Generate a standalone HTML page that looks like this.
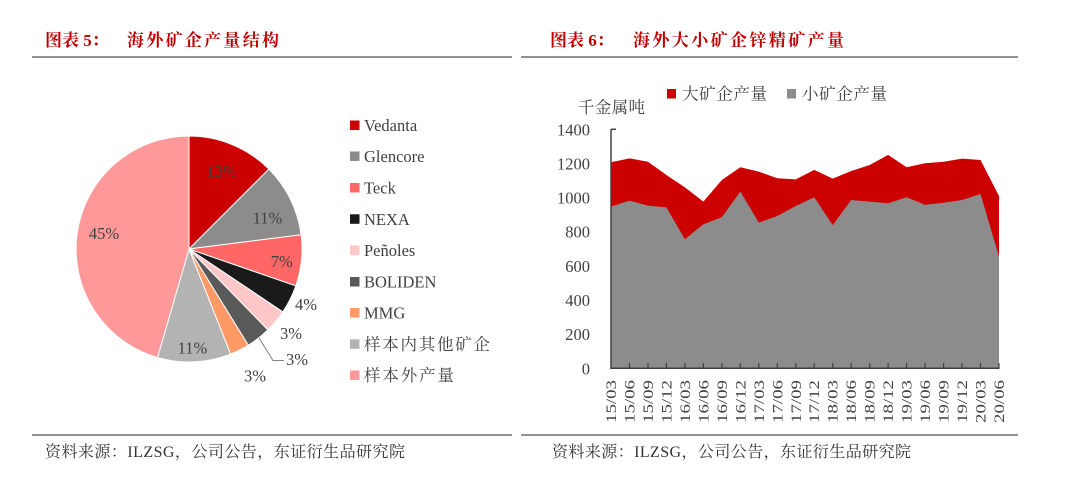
<!DOCTYPE html>
<html><head><meta charset="utf-8"><style>
html,body{margin:0;padding:0;background:#fff;}
body{width:1080px;height:487px;overflow:hidden;}
svg{display:block;}
.t{font-family:"Liberation Serif","Noto Serif CJK SC",serif;font-weight:bold;fill:#C00000;font-size:17px;}
.f{font-family:"Liberation Serif","Noto Serif CJK SC",serif;fill:#333;font-size:16px;}
.l{font-family:"Liberation Serif","Noto Serif CJK SC",serif;fill:#404040;font-size:16.5px;}
.n{font-family:"Liberation Serif",serif;fill:#404040;font-size:16.5px;}
.x{font-family:"Liberation Serif",serif;fill:#404040;font-size:15px;}
</style></head><body>
<svg width="1080" height="487" viewBox="0 0 1080 487" xmlns="http://www.w3.org/2000/svg">
<!-- Titles -->
<text class="t" x="45" y="46">图表 5：</text>
<text class="t" x="127" y="46" textLength="152" lengthAdjust="spacing">海外矿企产量结构</text>
<text class="t" x="550" y="46">图表 6：</text>
<text class="t" x="633" y="46" textLength="211" lengthAdjust="spacing">海外大小矿企锌精矿产量</text>
<line x1="32" y1="57" x2="512" y2="57" stroke="#6e6e6e" stroke-width="1.6"/>
<line x1="521" y1="57" x2="1018" y2="57" stroke="#6e6e6e" stroke-width="1.6"/>
<!-- Footer -->
<line x1="32" y1="435" x2="512" y2="435" stroke="#6e6e6e" stroke-width="1.6"/>
<line x1="521" y1="435" x2="1018" y2="435" stroke="#6e6e6e" stroke-width="1.6"/>
<text class="f" x="45" y="457" textLength="360" lengthAdjust="spacing">资料来源：ILZSG，公司公告，东证衍生品研究院</text>
<text class="f" x="552" y="457" textLength="359" lengthAdjust="spacing">资料来源：ILZSG，公司公告，东证衍生品研究院</text>

<!-- Pie -->
<g stroke="#fff" stroke-width="1">
<path d="M189,249 L189,136 A113,113 0 0 1 268.9,169.1 Z" fill="#CC0000"/>
<path d="M189,249 L268.9,169.1 A113,113 0 0 1 301.1,234.8 Z" fill="#8C8C8C"/>
<path d="M189,249 L301.1,234.8 A113,113 0 0 1 295.8,285.9 Z" fill="#FF6666"/>
<path d="M189,249 L295.8,285.9 A113,113 0 0 1 282.8,311.9 Z" fill="#1A1A1A"/>
<path d="M189,249 L282.8,311.9 A113,113 0 0 1 267.9,329.9 Z" fill="#FFC7C7"/>
<path d="M189,249 L267.9,329.9 A113,113 0 0 1 248.3,345.2 Z" fill="#595959"/>
<path d="M189,249 L248.3,345.2 A113,113 0 0 1 230.6,354.1 Z" fill="#FF9966"/>
<path d="M189,249 L230.6,354.1 A113,113 0 0 1 157.5,357.5 Z" fill="#B3B3B3"/>
<path d="M189,249 L157.5,357.5 A113,113 0 0 1 189,136 Z" fill="#FF9999"/>
</g>
<polyline points="259,338 273,360.5 284,360.5" fill="none" stroke="#808080" stroke-width="1"/>
<g class="n" text-anchor="middle">
<text x="221.5" y="177">13%</text>
<text x="267.5" y="223.5">11%</text>
<text x="281.7" y="267">7%</text>
<text x="306" y="310">4%</text>
<text x="291" y="339">3%</text>
<text x="297" y="365">3%</text>
<text x="255" y="381.5">3%</text>
<text x="192.5" y="353.5">11%</text>
<text x="104" y="239">45%</text>
</g>
<!-- Pie legend -->
<rect x="350" y="120.5" width="9.5" height="9.5" fill="#CC0000"/>
<rect x="350" y="151.5" width="9.5" height="9.5" fill="#8C8C8C"/>
<rect x="350" y="183" width="9.5" height="9.5" fill="#FF6666"/>
<rect x="350" y="214.3" width="9.5" height="9.5" fill="#1A1A1A"/>
<rect x="350" y="245.5" width="9.5" height="9.5" fill="#FFC7C7"/>
<rect x="350" y="277" width="9.5" height="9.5" fill="#595959"/>
<rect x="350" y="308" width="9.5" height="9.5" fill="#FF9966"/>
<rect x="350" y="339.3" width="9.5" height="9.5" fill="#B3B3B3"/>
<rect x="350" y="370.5" width="9.5" height="9.5" fill="#FF9999"/>
<g class="l">
<text x="364" y="131">Vedanta</text>
<text x="364" y="162">Glencore</text>
<text x="364" y="193.5">Teck</text>
<text x="364" y="224.8">NEXA</text>
<text x="364" y="256">Peñoles</text>
<text x="364" y="287.5">BOLIDEN</text>
<text x="364" y="318.5">MMG</text>
<text x="364" y="350" textLength="126" lengthAdjust="spacing">样本内其他矿企</text>
<text x="364" y="381" textLength="90" lengthAdjust="spacing">样本外产量</text>
</g>

<!-- Area chart -->
<g transform="translate(611,368.3) scale(18.476,-0.17071)">
<polygon fill="#CC0000" points="0,0 0,1207 1,1230 2,1210 3,1132 4,1060 5,976 6,1103 7,1178 8,1152 9,1113 10,1107 11,1162 12,1111 13,1156 14,1191 15,1250 16,1178 17,1201 18,1210 19,1228 20,1220 21,1009 21,0"/>
<polygon fill="#8C8C8C" points="0,0 0,947 1,982 2,953 3,943 4,756 5,844 6,885 7,1035 8,853 9,892 10,951 11,1002 12,839 13,986 14,976 15,967 16,1002 17,957 18,970 19,986 20,1021 21,654 21,0"/>
</g>
<!-- axes -->
<line x1="611" y1="129.3" x2="611" y2="369" stroke="#404040" stroke-width="1.5"/>
<line x1="611" y1="129.3" x2="616" y2="129.3" stroke="#404040" stroke-width="1.5"/>
<line x1="610.3" y1="368.3" x2="999.5" y2="368.3" stroke="#404040" stroke-width="1.5"/>
<g stroke="#404040" stroke-width="1.2">
<line x1="629.5" y1="368" x2="629.5" y2="363"/>
<line x1="648" y1="368" x2="648" y2="363"/>
<line x1="666.4" y1="368" x2="666.4" y2="363"/>
<line x1="684.9" y1="368" x2="684.9" y2="363"/>
<line x1="703.4" y1="368" x2="703.4" y2="363"/>
<line x1="721.9" y1="368" x2="721.9" y2="363"/>
<line x1="740.3" y1="368" x2="740.3" y2="363"/>
<line x1="758.8" y1="368" x2="758.8" y2="363"/>
<line x1="777.3" y1="368" x2="777.3" y2="363"/>
<line x1="795.8" y1="368" x2="795.8" y2="363"/>
<line x1="814.2" y1="368" x2="814.2" y2="363"/>
<line x1="832.7" y1="368" x2="832.7" y2="363"/>
<line x1="851.2" y1="368" x2="851.2" y2="363"/>
<line x1="869.7" y1="368" x2="869.7" y2="363"/>
<line x1="888.1" y1="368" x2="888.1" y2="363"/>
<line x1="906.6" y1="368" x2="906.6" y2="363"/>
<line x1="925.1" y1="368" x2="925.1" y2="363"/>
<line x1="943.6" y1="368" x2="943.6" y2="363"/>
<line x1="962" y1="368" x2="962" y2="363"/>
<line x1="980.5" y1="368" x2="980.5" y2="363"/>
<line x1="999" y1="368" x2="999" y2="363"/>
</g>
<!-- y labels -->
<g class="n" text-anchor="end">
<text x="590" y="374.3">0</text>
<text x="590" y="340.2">200</text>
<text x="590" y="306">400</text>
<text x="590" y="271.9">600</text>
<text x="590" y="237.7">800</text>
<text x="590" y="203.6">1000</text>
<text x="590" y="169.5">1200</text>
<text x="590" y="135.3">1400</text>
</g>
<text class="l" x="578" y="113" textLength="67" lengthAdjust="spacing">千金属吨</text>
<!-- legend -->
<rect x="667" y="89" width="9" height="9.5" fill="#CC0000"/>
<text class="l" x="682" y="99.5" textLength="85" lengthAdjust="spacing">大矿企产量</text>
<rect x="787" y="89" width="9" height="9.5" fill="#8C8C8C"/>
<text class="l" x="802" y="99.5" textLength="85" lengthAdjust="spacing">小矿企产量</text>
<!-- x labels -->
<g class="x" text-anchor="end">
<text transform="translate(616,380) rotate(-90)" textLength="43" lengthAdjust="spacingAndGlyphs">15/03</text>
<text transform="translate(634.5,380) rotate(-90)" textLength="43" lengthAdjust="spacingAndGlyphs">15/06</text>
<text transform="translate(653,380) rotate(-90)" textLength="43" lengthAdjust="spacingAndGlyphs">15/09</text>
<text transform="translate(671.4,380) rotate(-90)" textLength="43" lengthAdjust="spacingAndGlyphs">15/12</text>
<text transform="translate(689.9,380) rotate(-90)" textLength="43" lengthAdjust="spacingAndGlyphs">16/03</text>
<text transform="translate(708.4,380) rotate(-90)" textLength="43" lengthAdjust="spacingAndGlyphs">16/06</text>
<text transform="translate(726.9,380) rotate(-90)" textLength="43" lengthAdjust="spacingAndGlyphs">16/09</text>
<text transform="translate(745.3,380) rotate(-90)" textLength="43" lengthAdjust="spacingAndGlyphs">16/12</text>
<text transform="translate(763.8,380) rotate(-90)" textLength="43" lengthAdjust="spacingAndGlyphs">17/03</text>
<text transform="translate(782.3,380) rotate(-90)" textLength="43" lengthAdjust="spacingAndGlyphs">17/06</text>
<text transform="translate(800.8,380) rotate(-90)" textLength="43" lengthAdjust="spacingAndGlyphs">17/09</text>
<text transform="translate(819.2,380) rotate(-90)" textLength="43" lengthAdjust="spacingAndGlyphs">17/12</text>
<text transform="translate(837.7,380) rotate(-90)" textLength="43" lengthAdjust="spacingAndGlyphs">18/03</text>
<text transform="translate(856.2,380) rotate(-90)" textLength="43" lengthAdjust="spacingAndGlyphs">18/06</text>
<text transform="translate(874.7,380) rotate(-90)" textLength="43" lengthAdjust="spacingAndGlyphs">18/09</text>
<text transform="translate(893.1,380) rotate(-90)" textLength="43" lengthAdjust="spacingAndGlyphs">18/12</text>
<text transform="translate(911.6,380) rotate(-90)" textLength="43" lengthAdjust="spacingAndGlyphs">19/03</text>
<text transform="translate(930.1,380) rotate(-90)" textLength="43" lengthAdjust="spacingAndGlyphs">19/06</text>
<text transform="translate(948.6,380) rotate(-90)" textLength="43" lengthAdjust="spacingAndGlyphs">19/09</text>
<text transform="translate(967,380) rotate(-90)" textLength="43" lengthAdjust="spacingAndGlyphs">19/12</text>
<text transform="translate(985.5,380) rotate(-90)" textLength="43" lengthAdjust="spacingAndGlyphs">20/03</text>
<text transform="translate(1004,380) rotate(-90)" textLength="43" lengthAdjust="spacingAndGlyphs">20/06</text>
</g>
</svg>
</body></html>
